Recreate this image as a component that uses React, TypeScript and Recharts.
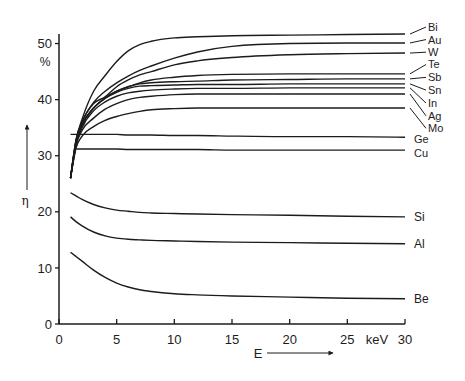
import React from 'react';
import { LineChart, Line, XAxis, YAxis } from 'recharts';

// primary energy E in keV
const energy = [1, 1.5, 2, 3, 4, 5, 6, 7, 8, 10, 12, 15, 20, 25, 30];

const elements = ['Bi', 'Au', 'W', 'Te', 'Sb', 'Sn', 'In', 'Ag', 'Mo', 'Ge', 'Cu', 'Si', 'Al', 'Be'];

// backscattering coefficient eta in %
const bi = [26, 33, 36.5, 41.5, 44.3, 46.8, 48.7, 49.8, 50.4, 51, 51.2, 51.4, 51.5, 51.6, 51.7];
const au = [26, 33, 36, 39.5, 41.5, 43, 44.2, 45.2, 46, 47.4, 48.5, 49.5, 50, 50.1, 50.1];
const w = [26, 33, 36, 39.3, 40.5, 42.3, 43.5, 44.4, 45, 46.2, 46.9, 47.5, 48, 48.2, 48.3];
const te = [26, 32.5, 35.5, 38.5, 40.3, 41.5, 42.3, 43, 43.5, 44, 44.3, 44.5, 44.6, 44.6, 44.6];
const sb = [26, 32.5, 35.5, 38.5, 40.3, 41.5, 42.3, 42.8, 43, 43.2, 43.3, 43.5, 43.6, 43.7, 43.7];
const sn = [26, 32.5, 35.5, 38.5, 40.2, 41.3, 42, 42.4, 42.5, 42.6, 42.7, 42.7, 42.8, 42.8, 42.8];
const indium = [26, 32, 35, 38, 39.6, 40.6, 41.2, 41.5, 41.7, 41.9, 42, 42, 42.1, 42.1, 42.1];
const ag = [26, 32, 34.5, 36.7, 38.3, 39.3, 40, 40.4, 40.6, 40.9, 41, 41, 41, 41, 41];
const mo = [26, 31.5, 33.5, 35.2, 36.3, 37, 37.5, 37.9, 38.2, 38.4, 38.5, 38.5, 38.5, 38.5, 38.5];
const ge = [33.8, 33.8, 33.8, 33.8, 33.8, 33.8, 33.7, 33.7, 33.7, 33.6, 33.6, 33.5, 33.4, 33.4, 33.3];
const cu = [null, 31.2, 31.2, 31.2, 31.2, 31.2, 31.1, 31.1, 31.1, 31.1, 31.1, 31, 31, 31, 31];
const si = [23.4, 22.8, 22.2, 21.3, 20.7, 20.3, 20.1, 19.9, 19.8, 19.7, 19.6, 19.5, 19.4, 19.2, 19.1];
const al = [19.1, 18.2, 17.5, 16.4, 15.7, 15.3, 15.1, 15, 14.9, 14.8, 14.7, 14.6, 14.5, 14.4, 14.3];
const be = [12.8, 12, 11.2, 9.6, 8.3, 7.3, 6.6, 6.1, 5.8, 5.4, 5.2, 5, 4.8, 4.6, 4.5];

const values: Record<string, (number | null)[]> = {
  Bi: bi, Au: au, W: w, Te: te, Sb: sb, Sn: sn, In: indium, Ag: ag, Mo: mo,
  Ge: ge, Cu: cu, Si: si, Al: al, Be: be,
};

const xTicks = [0, 5, 10, 15, 20, 25, 30];
const yTicks = [0, 10, 20, 30, 40, 50];

const data = energy.map((e, i) => {
  const row: Record<string, number | null> = { E: e };
  elements.forEach((el) => {
    row[el] = values[el][i];
  });
  return row;
});

// vertical shift (px) of the crowded labels, drawn with a leader line
const labelShift: Record<string, number> = {
  Bi: -7, Au: -3.4, W: -0.9, Te: -9.3, Sb: -1.5, Sn: 6.2, In: 15.2, Ag: 21.8, Mo: 20.3,
};
// labels set right after the line end, no leader
const plainShift: Record<string, number> = { Ge: 1.5, Cu: 2.5 };

const ink = '#1c1c1c';
const font = '"Liberation Sans", Arial, sans-serif';
const W = 465;
const H = 381;
const tickGap = 8;

const endLabel = (name: string) => (props: any) => {
  const { x, y, index } = props;
  if (index !== energy.length - 1) return null;
  const shift = labelShift[name];
  if (shift === undefined) {
    const size = plainShift[name] !== undefined ? 11 : 12;
    return (
      <text x={x + 9} y={y + (plainShift[name] || 0)} dy="0.36em" fontSize={size} fontFamily={font} fill={ink}>
        {name}
      </text>
    );
  }
  return (
    <g>
      <line x1={x + 5} y1={y} x2={x + 21} y2={y + shift} stroke={ink} strokeWidth={1} />
      <text x={x + 23} y={y + shift} dy="0.36em" fontSize={11} fontFamily={font} fill={ink}>
        {name}
      </text>
    </g>
  );
};

const XTick = (props: any) => {
  const { x, y, payload } = props;
  const axisY = y - tickGap;
  return (
    <g>
      <line x1={x} x2={x} y1={axisY} y2={axisY - 5} stroke={ink} strokeWidth={1.3} />
      <text x={x} y={axisY + 20} textAnchor="middle" fontSize={13} fontFamily={font} fill={ink}>
        {payload.value}
      </text>
    </g>
  );
};

export default function App() {
  return (
    <div style={{ position: 'absolute', left: 0, top: 0, width: W, height: H, background: '#fff' }}>
      <LineChart width={W} height={H} data={data} margin={{ top: 34, right: 60, left: 19, bottom: 27 }}>
        <XAxis
          dataKey="E"
          type="number"
          domain={[0, 30]}
          ticks={xTicks}
          height={30}
          tickLine={false}
          tickSize={0}
          tickMargin={tickGap}
          tick={<XTick />}
          axisLine={{ stroke: ink, strokeWidth: 1.5 }}
        />
        <YAxis
          type="number"
          domain={[0, 50]}
          ticks={yTicks}
          width={40}
          tickSize={4}
          tickMargin={3}
          tickLine={{ stroke: ink, strokeWidth: 1.3 }}
          axisLine={{ stroke: ink, strokeWidth: 1.5 }}
          tick={{ fill: ink, fontSize: 13, fontFamily: font }}
        />
        {elements.map((el) => (
          <Line
            key={el}
            dataKey={el}
            type="monotone"
            stroke={ink}
            strokeWidth={1.4}
            dot={false}
            isAnimationActive={false}
            label={endLabel(el)}
          />
        ))}
      </LineChart>
      <svg width={W} height={H} style={{ position: 'absolute', left: 0, top: 0, pointerEvents: 'none' }}>
        <defs>
          <marker id="head" viewBox="0 0 10 10" refX="9" refY="5" markerWidth="7" markerHeight="5" orient="auto">
            <path d="M0,0 L10,5 L0,10 z" fill={ink} />
          </marker>
        </defs>
        <text x={45} y={66} textAnchor="middle" fontSize={12} fontFamily={font} fill={ink}>%</text>
        <line x1={27} y1={190} x2={27} y2={125} stroke={ink} strokeWidth={1} markerEnd="url(#head)" />
        <text x={25} y={205} textAnchor="middle" fontSize={12} fontFamily="'DejaVu Serif', serif" fill={ink}>η</text>
        <text x={258} y={358} textAnchor="middle" fontSize={13} fontFamily={font} fill={ink}>E</text>
        <line x1={267} y1={353} x2={333} y2={353} stroke={ink} strokeWidth={1} markerEnd="url(#head)" />
        <text x={377} y={344} textAnchor="middle" fontSize={13} fontFamily={font} fill={ink}>keV</text>
      </svg>
    </div>
  );
}
